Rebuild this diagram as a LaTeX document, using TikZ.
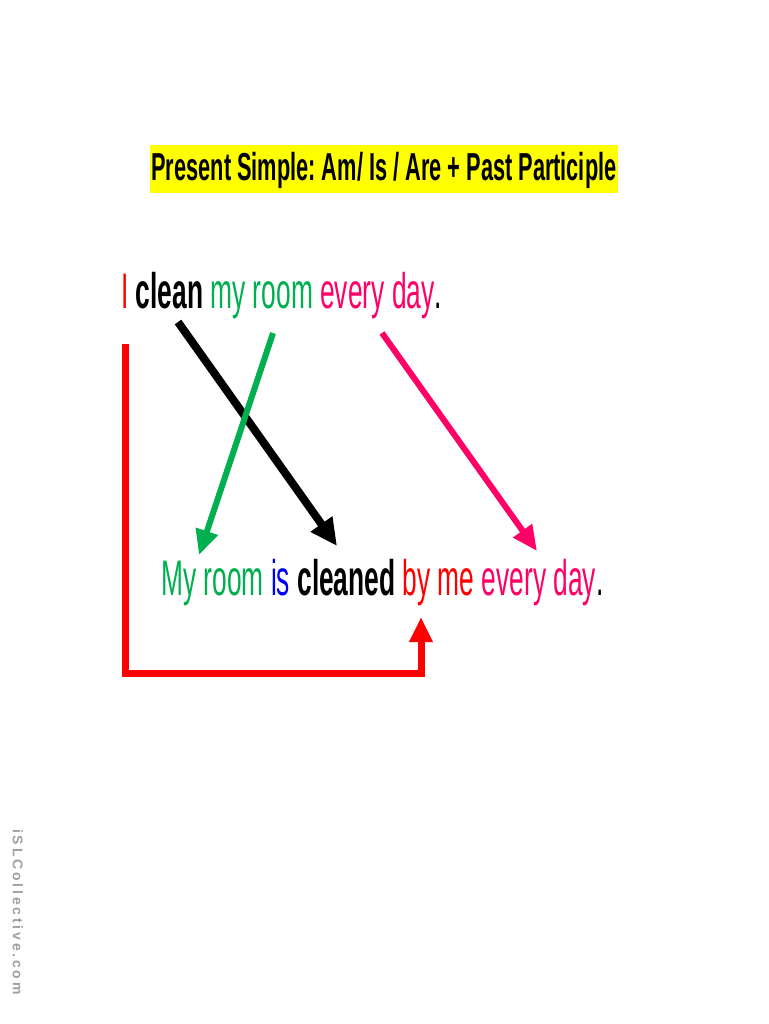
\documentclass[tikz,border=0pt]{standalone}
\usepackage{fontspec}
\usepackage{graphicx}
\setmainfont{Liberation Sans}
\usetikzlibrary{arrows.meta}
\frenchspacing
\definecolor{myred}{HTML}{FF0000}
\definecolor{mygreen}{HTML}{00B050}
\definecolor{mypink}{HTML}{FF0066}
\definecolor{myblue}{HTML}{0000F0}
\definecolor{myyellow}{HTML}{FFFF00}
\definecolor{wmgray}{HTML}{A0A0A0}
\tikzset{
  sent/.style={inner sep=0pt, anchor=base west, font=\fontsize{50}{60}\selectfont},
  titlebox/.style={fill=myyellow, inner sep=0pt, minimum width=468pt, minimum height=48pt},
  arr/.style={line width=#1, -{Triangle[length=25pt,width=22pt]}},
  blackarr/.style={line width=8pt, -{Triangle[length=27pt,width=25pt]}},
}
\begin{document}
\begin{tikzpicture}[x=1pt,y=-1pt]
\path[use as bounding box, fill=white] (0,0) rectangle (768,1024);
% title
\node[titlebox] (tb) at (384,169) {};
\node[inner sep=0pt, anchor=base, font=\fontsize{39}{46}\selectfont\bfseries\frenchspacing] (title) at (384,181)
  {\scalebox{0.558}[1]{Present Simple: Am/ Is / Are + Past Participle}};
% sentences
\node[sent] (s1) at (121,308)
  {\scalebox{0.527}[1]{\textcolor{myred}{I} \textbf{clean} \textcolor{mygreen}{my room} \textcolor{mypink}{every day}.}};
\node[sent] (s2) at (161,595)
  {\scalebox{0.527}[1]{\textcolor{mygreen}{My room} \textcolor{myblue}{is} \textbf{cleaned} \textcolor{myred}{by me} \textcolor{mypink}{every day}.}};
% arrow end points
\coordinate (cleanA) at (178,322);
\coordinate (cleanB) at (337,546);
\coordinate (roomA) at (273,333);
\coordinate (roomB) at (199,555);
\coordinate (dayA) at (382,333);
\coordinate (dayB) at (537,551);
\coordinate (iA) at (125,344);
\coordinate (iC1) at (125,673);
\coordinate (iC2) at (421,673);
\coordinate (byB) at (421,617);
\draw[blackarr, black] (cleanA) -- (cleanB);
\draw[arr=6pt, mygreen] (roomA) -- (roomB);
\draw[arr=6pt, mypink] (dayA) -- (dayB);
\draw[arr=7pt, myred, line join=miter] (iA) -- (iC1) -- (iC2) -- (byB);
% watermark
\node[inner sep=0pt, rotate=-90, text=wmgray, font=\fontsize{14}{16}\selectfont\bfseries\addfontfeature{LetterSpace=20}] (wm) at (18,912) {iSLCollective.com};
\end{tikzpicture}
\end{document}
